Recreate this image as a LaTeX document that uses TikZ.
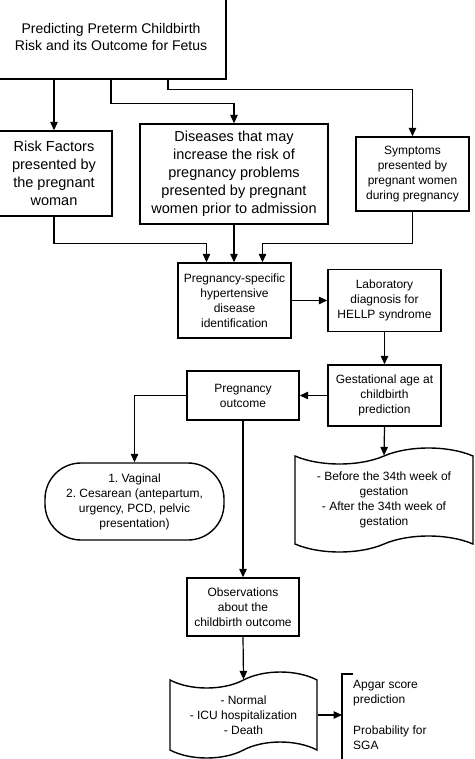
\documentclass[tikz,border=0pt]{standalone}
\usepackage{fontspec}
\setmainfont{Liberation Sans}
\frenchspacing
\usetikzlibrary{arrows.meta, shapes.symbols, positioning, calc}

\begin{document}
\begin{tikzpicture}[x=1pt,y=-1pt,
    box/.style={draw,line width=1.4pt,align=center,inner sep=1pt},
    tp/.style={draw,line width=1.4pt,shape=tape,align=center,
               tape bend height=16pt,inner sep=1pt},
    arr/.style={-{Triangle[length=8.5pt,width=7.5pt]},line width=1.2pt},
    big/.style={font=\fontsize{14.5}{18}\selectfont},
    sml/.style={font=\fontsize{12}{15}\selectfont}
  ]
  \useasboundingbox (0,0) rectangle (474,759);
  % Top row
  \node[box,font=\fontsize{14}{17.5}\selectfont,minimum width=230pt,minimum height=84pt] (top) at (111,37)
    {Predicting Preterm Childbirth\\Risk and its Outcome for Fetus};
  \node[box,big,minimum width=116pt,minimum height=85pt] (risk) at (54,173.5)
    {Risk Factors\\presented by\\the pregnant\\woman};
  \node[box,big,minimum width=188pt,minimum height=100pt] (dis) at (234,174)
    {Diseases that may\\increase the risk of\\pregnancy problems\\presented by pregnant\\women prior to admission};
  \node[box,sml,minimum width=113pt,minimum height=74pt] (sym) at (412.5,174)
    {Symptoms\\presented by\\pregnant women\\during pregnancy};
  \draw[arr] (top.south -| risk.north) -- (risk.north);
  \draw[arr] (top.south) -- ++(0,24) -| (dis.north);
  \draw[arr] ([xshift=57pt]top.south) -- ++(0,10) -| (sym.north);
  % Middle
  \node[box,sml,minimum width=113pt,minimum height=75pt] (preg) at (234.5,300.5)
    {Pregnancy-specific\\hypertensive\\disease\\identification};
  \node[box,sml,minimum width=113pt,minimum height=62pt] (lab) at (384.5,300.5)
    {Laboratory\\diagnosis for\\HELLP syndrome};
  \node[box,sml,minimum width=113pt,minimum height=61pt] (gest) at (384.5,395.5)
    {Gestational age at\\childbirth\\prediction};
  \node[box,sml,minimum width=112pt,minimum height=49pt] (pout) at (243,395.5)
    {Pregnancy\\outcome};
  \draw[arr] (risk.south) -- ++(0,27) -| ([xshift=-28pt]preg.north);
  \draw[arr] (dis.south) -- (dis.south |- preg.north);
  \draw[arr] (sym.south) -- ++(0,32) -| ([xshift=28pt]preg.north);
  \draw[arr] (preg.east) -- (preg.east -| lab.west);
  \draw[arr] (lab.south) -- (gest.north);
  \draw[arr] (gest.west) -- (gest.west -| pout.east);
  % Bottom
  \node[box,sml,rounded corners=36pt,minimum width=179pt,minimum height=77pt] (vag) at (134.5,501.5)
    {1. Vaginal\\2. Cesarean (antepartum,\\urgency, PCD, pelvic\\presentation)};
  \node[tp,sml,minimum width=178pt,minimum height=104pt] (gtape) at (384,500)
    {- Before the 34th week of\\gestation\\- After the 34th week of\\gestation};
  \node[box,sml,minimum width=112pt,minimum height=58pt] (obs) at (243,607)
    {Observations\\about the\\childbirth outcome};
  \node[tp,sml,minimum width=147pt,minimum height=86pt] (otape) at (243.5,715)
    {- Normal\\- ICU hospitalization\\- Death};
  \node[sml,align=left,inner sep=0pt,anchor=north west] (apgar) at (353,680)
    {Apgar score\\prediction\\[16pt]Probability for\\SGA};
  \coordinate (brk) at (342,674);
  \draw[arr] (pout.west) -| (vag.north);
  \draw[arr] (pout.south) -- (obs.north);
  \draw[arr] (gest.south) -- (gtape.north);
  \draw[arr] (obs.south) -- (otape.north);
  \draw[line width=1.2pt] ([xshift=11pt]brk) -- (brk) -- ++(0,95);
  \draw[arr] (otape.east) -- (otape.east -| brk);
\end{tikzpicture}
\end{document}
